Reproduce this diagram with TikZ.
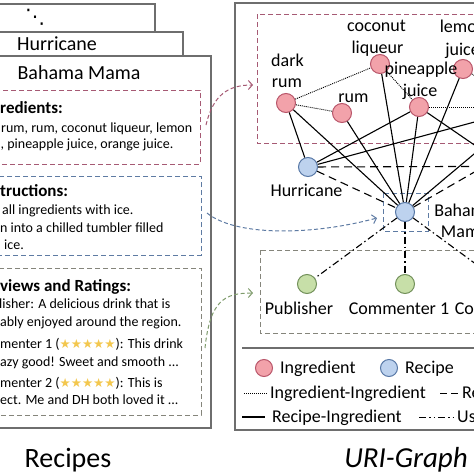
\documentclass[tikz,border=0pt]{standalone}
\usepackage{fontspec}
\setmainfont{Carlito}
\newfontfamily\symfont{DejaVu Sans}
\usetikzlibrary{arrows.meta}
\definecolor{framegray}{HTML}{6E6E6E}
\definecolor{ingbox}{HTML}{A65A74}
\definecolor{recbox}{HTML}{5E7BA3}
\definecolor{usrbox}{HTML}{85857B}
\definecolor{usrarrow}{HTML}{7F9B6C}
\definecolor{ingfill}{HTML}{F2A2AA}
\definecolor{ingdraw}{HTML}{B9566A}
\definecolor{recfill}{HTML}{BDD2EE}
\definecolor{recdraw}{HTML}{5878A6}
\definecolor{usrfill}{HTML}{C7DFA8}
\definecolor{usrdraw}{HTML}{72905A}
\definecolor{stargold}{HTML}{F3C74E}
\newcommand{\stars}{{\symfont\fontsize{12.5}{14}\selectfont\color{stargold}★★★★★}}
\begin{document}
\begin{tikzpicture}[x=1pt,y=-1pt,
  card/.style={draw=framegray, line width=2pt, fill=white},
  dbox/.style={dash pattern=on 5pt off 3pt, line width=1pt},
  ingn/.style={circle, draw=ingdraw, fill=ingfill, line width=1pt, minimum size=19pt, inner sep=0pt},
  recn/.style={circle, draw=recdraw, fill=recfill, line width=1pt, minimum size=19pt, inner sep=0pt},
  usrn/.style={circle, draw=usrdraw, fill=usrfill, line width=1pt, minimum size=19pt, inner sep=0pt},
  lbl/.style={font=\fontsize{18}{20}\selectfont, inner sep=0pt, anchor=base},
  body/.style={font=\fontsize{14}{16}\selectfont, inner sep=0pt, anchor=base west},
  head/.style={font=\fontsize{17}{19}\selectfont\bfseries, inner sep=0pt, anchor=base west},
  title/.style={font=\fontsize{20}{24}\selectfont, inner sep=0pt, anchor=base},
  iiedge/.style={dash pattern=on 1pt off 1pt, line width=0.9pt},
  riedge/.style={line width=1.1pt},
  rredge/.style={dash pattern=on 8pt off 5pt, line width=1.1pt},
  uredge/.style={dash pattern=on 7pt off 3pt on 1.5pt off 3pt, line width=1.1pt},
  barb/.style={-{Straight Barb[length=4pt,width=9pt]}, dash pattern=on 4pt off 2.5pt, line width=1pt}
]
\useasboundingbox (0,0) rectangle (474,474);
\clip (0,0) rectangle (474,474);

% ---------------- left: recipe cards ----------------
\draw[card] (-80,4) rectangle (155,400);
\node[inner sep=0pt, font=\symfont\fontsize{20}{22}\selectfont, anchor=center] (dots) at (35,17) {⋱};
\draw[card] (-80,32) rectangle (183,400);
\node[title] (hurcard) at (57,50) {Hurricane};
\draw[card] (-80,56) rectangle (211,428);
\node[title] (bmcard) at (79,79) {Bahama Mama};

% ingredients box
\draw[ingbox, dbox] (-20,90) rectangle (200,164);
\node[head] (ingh) at (0,113) {\llap{Ing}redients:};
\node[body] (ing1) at (1,132) {\llap{dark }rum, rum, coconut liqueur, lemon};
\node[body] (ing2) at (0.5,148) {\llap{juice}, pineapple juice, orange juice.};

% instructions box
\draw[recbox, dbox] (-20,176) rectangle (201,255);
\node[head] (insh) at (0,196) {\llap{Ins}tructions:};
\node[body] (ins1) at (2,214) {\llap{1. Shake }all ingredients with ice.};
\node[body] (ins2) at (0,232) {\llap{2. Strai}n into a chilled tumbler filled};
\node[body] (ins3) at (4,249) {\llap{with }ice.};

% reviews box
\draw[usrbox, dbox] (-20,268) rectangle (201,415);
\node[head] (revh) at (0,291) {\llap{Re}views and Ratings:};
\node[body] (rev1) at (-1,308) {\llap{Pub}lisher: A delicious drink that is};
\node[body] (rev2) at (0,326) {\llap{prob}ably enjoyed around the region.};
\node[body] (rev3) at (0,348) {\llap{Com}menter 1 (\stars): This drink};
\node[body] (rev4) at (0,366) {\llap{is cr}azy good! Sweet and smooth ...};
\node[body] (rev5) at (0,387) {\llap{Com}menter 2 (\stars): This is};
\node[body] (rev6) at (0,404) {\llap{perf}ect. Me and DH both loved it ...};

\node[title, font=\fontsize{28}{30}\selectfont] (recipes) at (68,467) {Recipes};

% ---------------- right: URI-Graph ----------------
\draw[card, fill=none] (235,3) rectangle (520,430);
\draw[framegray, line width=2.5pt] (242,348) -- (520,348);

\draw[ingbox, dbox] (257,14) rectangle (520,143);
\draw[recbox, dbox] (383,193) rectangle (428,231);
\draw[usrbox, dbox] (260,250) rectangle (520,333);

% nodes
\node[ingn] (dr) at (286,103) {};
\node[ingn] (rum) at (342,113) {};
\node[ingn] (cl) at (380,64) {};
\node[ingn] (pj) at (419,107) {};
\node[ingn] (lj) at (463,69) {};
\node[ingn] (oj) at (530,107) {};
\node[recn] (hur) at (308,167) {};
\node[recn] (bm) at (405,212) {};
\node[recn] (r3) at (540,190) {};
\node[recn] (r4) at (600,166) {};
\node[recn] (r5) at (530,140) {};
\node[usrn] (pub) at (307,284) {};
\node[usrn] (c1) at (405,284) {};
\node[usrn] (c2) at (503,284) {};

% ingredient-ingredient
\draw[iiedge] (dr) -- (rum);
\draw[iiedge] (dr) -- (cl);
\draw[iiedge] (cl) -- (pj);
\draw[iiedge] (pj) -- (oj);
\draw[iiedge] (lj) -- (oj);
% recipe-ingredient
\draw[riedge] (dr) -- (hur);
\draw[riedge] (dr) -- (bm);
\draw[riedge] (rum) -- (bm);
\draw[riedge] (cl) -- (bm);
\draw[riedge] (pj) -- (bm);
\draw[riedge] (lj) -- (bm);
\draw[riedge] (oj) -- (bm);
\draw[riedge] (pj) -- (hur);
\draw[riedge] (oj) -- (hur);
\draw[riedge] (pj) -- (r3);
% recipe-recipe
\draw[rredge] (hur) -- (bm);
\draw[rredge] (hur) -- (r4);
\draw[rredge] (bm) -- (r5);
% user-recipe
\draw[uredge] (bm) -- (pub);
\draw[uredge] (bm) -- (c1);
\draw[uredge] (bm) -- (c2);

% labels
\node[lbl] (ldr1) at (287.5,66) {dark};
\node[lbl] (ldr2) at (287,87) {rum};
\node[lbl] (lrum) at (353.5,102) {rum};
\node[lbl] (lcl1) at (376.5,31) {coconut};
\node[lbl] (lcl2) at (377.5,53) {liqueur};
\node[lbl] (lpj1) at (421,74) {pineapple};
\node[lbl] (lpj2) at (420,96) {juice};
\node[lbl] (llj1) at (463,32) {lemon};
\node[lbl] (llj2) at (462.5,55) {juice};
\node[lbl] (lhur) at (306.5,196) {Hurricane};
\node[lbl] (lbm1) at (464,216) {Bahama};
\node[lbl] (lbm2) at (464.5,237) {Mama};
\node[lbl] (lpub) at (299,314) {Publisher};
\node[lbl] (lc1) at (399,314) {Commenter 1};
\node[lbl] (lc2) at (505,314) {Commenter 2};

% connectors between panels
\coordinate (ia1) at (206,125); \coordinate (ia2) at (253,85);
\draw[ingbox, barb] (ia1) .. controls (213,95) and (228,85) .. (ia2);
\coordinate (ra1) at (207,213); \coordinate (ra2) at (377,218);
\draw[recbox, barb] (ra1) .. controls (235,236) and (310,236) .. (ra2);
\coordinate (ua1) at (205,348); \coordinate (ua2) at (253,293);
\draw[usrarrow, barb] (ua1) .. controls (210,300) and (225,293) .. (ua2);

% legend
\node[ingn, minimum size=17pt] (lgi) at (264,368) {};
\node[lbl, anchor=base west] (lgit) at (280,373) {Ingredient};
\node[recn, minimum size=17pt] (lgr) at (389,368) {};
\node[lbl, anchor=base west] (lgrt) at (405,373) {Recipe};
\coordinate (la1) at (244,393); \coordinate (la2) at (267,393);
\draw[iiedge, line width=0.7pt] (la1) -- (la2);
\node[lbl, anchor=base west] (lt1) at (270,398) {Ingredient-Ingredient};
\coordinate (lb1) at (440,393); \coordinate (lb2) at (459,393);
\draw[dash pattern=on 7pt off 4pt, line width=1pt] (lb1) -- (lb2);
\node[lbl, anchor=base west] (lt2) at (462,398) {Recipe-Recipe};
\coordinate (lc1a) at (242,417); \coordinate (lc1b) at (265,417);
\draw[riedge] (lc1a) -- (lc1b);
\node[lbl, anchor=base west] (lt3) at (272,422) {Recipe-Ingredient};
\coordinate (ld1) at (419,417); \coordinate (ld2) at (455,417);
\draw[dash pattern=on 7pt off 3pt on 1.5pt off 3pt on 1.5pt off 3pt, line width=1pt] (ld1) -- (ld2);
\node[lbl, anchor=base west] (lt4) at (457,422) {User-Recipe};

\node[lbl, font=\fontsize{29}{31}\selectfont\itshape] (urig) at (406,467) {URI-Graph};
\end{tikzpicture}
\end{document}
